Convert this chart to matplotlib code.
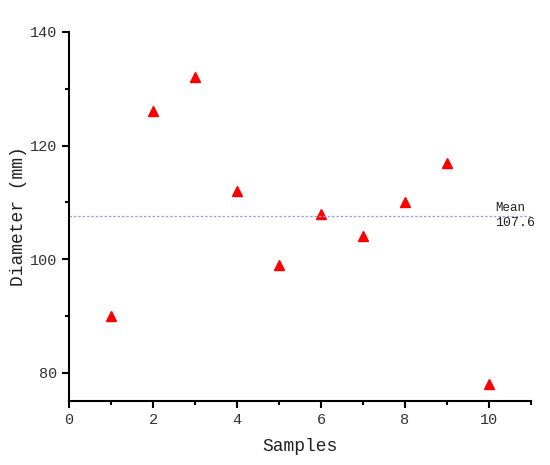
import matplotlib
matplotlib.use("Agg")
import matplotlib.pyplot as plt
from matplotlib.ticker import MultipleLocator

samples = [1, 2, 3, 4, 5, 6, 7, 8, 9, 10]
diameter = [90, 126, 132, 112, 99, 108, 104, 110, 117, 78]
mean_val = sum(diameter) / len(diameter)

plt.rcParams['font.family'] = ['Liberation Mono', 'DejaVu Sans Mono']

fig = plt.figure(figsize=(5.5, 4.65), dpi=100)
ax = fig.add_axes([0.1255, 0.1376, 0.84, 0.7936])
ax.plot(samples, diameter, linestyle='none', marker='^', color='red', markersize=7)
ax.axhline(mean_val, color='#9999ee', linestyle=(0, (2, 1.5)), linewidth=0.9)
ax.text(10.15, mean_val + 0.4, 'Mean', fontsize=9, ha='left', va='bottom', color='#222222')
ax.text(10.15, mean_val - 0.2, f'{mean_val:.1f}', fontsize=9.5, ha='left', va='top', color='#222222')

ax.set_xlim(0, 11)
ax.set_ylim(75, 140)
ax.xaxis.set_major_locator(MultipleLocator(2))
ax.xaxis.set_minor_locator(MultipleLocator(1))
ax.yaxis.set_major_locator(MultipleLocator(20))
ax.yaxis.set_minor_locator(MultipleLocator(10))
ax.set_yticks([80, 100, 120, 140])
for s in ['top', 'right']:
    ax.spines[s].set_visible(False)
for s in ['left', 'bottom']:
    ax.spines[s].set_linewidth(1.5)
ax.tick_params(which='major', direction='out', length=5, width=1.5, labelsize=11, labelcolor='#333333')
ax.tick_params(which='minor', direction='out', length=3, width=1.5)
ax.set_xlabel('Samples', fontsize=13, labelpad=8, color='#222222')
ax.set_ylabel('Diameter (mm)', fontsize=13, labelpad=2, color='#222222')
fig.savefig('out.png', dpi=100)
